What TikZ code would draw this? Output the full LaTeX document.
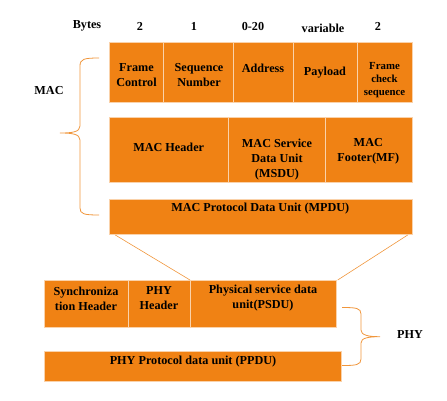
\documentclass[tikz,border=0pt]{standalone}
\usepackage{fontspec}
\setmainfont{Liberation Serif}
\usepackage{tikz}
\definecolor{frameorange}{RGB}{240,130,20}
\definecolor{cellline}{RGB}{250,210,170}
\definecolor{braceorange}{RGB}{240,150,60}

\begin{document}
\begin{tikzpicture}[x=1pt,y=-1pt,
  cell/.style={fill=frameorange,draw=cellline,line width=0.7pt,anchor=north west,inner sep=0pt},
  txt/.style={inner sep=0pt,align=center,font=\bfseries\fontsize{12.2}{15}\selectfont},
  smalltxt/.style={inner sep=0pt,align=center,font=\bfseries\fontsize{10.8}{13}\selectfont},
  brace/.style={draw=braceorange,line width=0.8pt},
  link/.style={draw=braceorange,line width=0.6pt}]
\useasboundingbox (0,0) rectangle (447,400);
% byte counts
\node[txt] (bytes) at (87,26) {Bytes};
\node[txt] (b1) at (140,26) {2};
\node[txt] (b2) at (194,26) {1};
\node[txt] (b3) at (253,26) {0-20};
\node[txt] (b4) at (323,28) {variable};
\node[txt] (b5) at (378,26) {2};
% MAC frame fields
\node[cell,minimum width=54pt,minimum height=60pt] (fc) at (109.3,41.7) {};
\node[cell,minimum width=70pt,minimum height=60pt] (sn) at (163.3,41.7) {};
\node[cell,minimum width=59.4pt,minimum height=60pt] (addr) at (233.3,41.7) {};
\node[cell,minimum width=64pt,minimum height=60pt] (pay) at (292.7,41.7) {};
\node[cell,minimum width=55pt,minimum height=60pt] (fcs) at (356.7,41.7) {};
\node[txt] (fc-t) at (136.5,75.5) {Frame\\Control};
\node[txt] (sn-t) at (199,75.5) {Sequence\\Number};
\node[txt] (addr-t) at (263,68) {Address};
\node[txt] (pay-t) at (325,73) {Payload};
\node[smalltxt] (fcs-t) at (384.5,80.5) {Frame\\check\\sequence};
% MAC header / MSDU / footer
\node[cell,minimum width=118.4pt,minimum height=65pt] (mhr) at (109.3,117.3) {};
\node[cell,minimum width=97.3pt,minimum height=65pt] (msdu) at (227.7,117.3) {};
\node[cell,minimum width=86.7pt,minimum height=65pt] (mfr) at (325,117.3) {};
\node[txt] (mhr-t) at (168.7,147.7) {MAC Header};
\node[txt] (msdu-t) at (277,160) {MAC Service\\Data Unit\\(MSDU)};
\node[txt] (mfr-t) at (368.3,151.7) {MAC\\Footer(MF)};
% MPDU
\node[cell,minimum width=302.4pt,minimum height=35.3pt] (mpdu) at (109.3,199) {};
\node[txt] (mpdu-t) at (260.3,209) {MAC Protocol Data Unit (MPDU)};
% PHY fields
\node[cell,minimum width=83.4pt,minimum height=46.7pt] (shr) at (44.3,280) {};
\node[cell,minimum width=62.3pt,minimum height=46.7pt] (phr) at (127.7,280) {};
\node[cell,minimum width=145.7pt,minimum height=46.7pt] (psdu) at (190,280) {};
\node[txt] (shr-t) at (86,298.5) {Synchroniza\\tion Header};
\node[txt] (phr-t) at (159,298.5) {PHY\\Header};
\node[txt] (psdu-t) at (263,298.5) {Physical service data\\unit(PSDU)};
% PPDU
\node[cell,minimum width=296.7pt,minimum height=30pt] (ppdu) at (44.3,350.7) {};
\node[txt] (ppdu-t) at (193,361.7) {PHY Protocol data unit (PPDU)};
% MPDU goes into PSDU
\draw[link] ([xshift=6pt]mpdu.south west) -- (psdu.north west);
\draw[link] ([xshift=-4.7pt]mpdu.south east) -- ([xshift=1.3pt]psdu.north east);
% braces
\draw[brace] (99,58) .. controls (84,58) and (80,59) .. (80,66) -- (80,126)
  .. controls (80,132) and (72,133) .. (60,133) .. controls (72,133) and (80,134) .. (80,140)
  -- (80,208) .. controls (80,214) and (84,215) .. (99,215);
\node[txt] (mac) at (49,91) {MAC};
\draw[brace] (342,307.5) .. controls (356,307.5) and (361,308) .. (361,314) -- (361,330)
  .. controls (361,335) and (368,336.7) .. (380,336.7) .. controls (368,336.7) and (361,338) .. (361,343)
  -- (361,359) .. controls (361,365) and (356,365.5) .. (342,365.5);
\node[txt] (phy) at (410,334) {PHY};
\end{tikzpicture}
\end{document}
